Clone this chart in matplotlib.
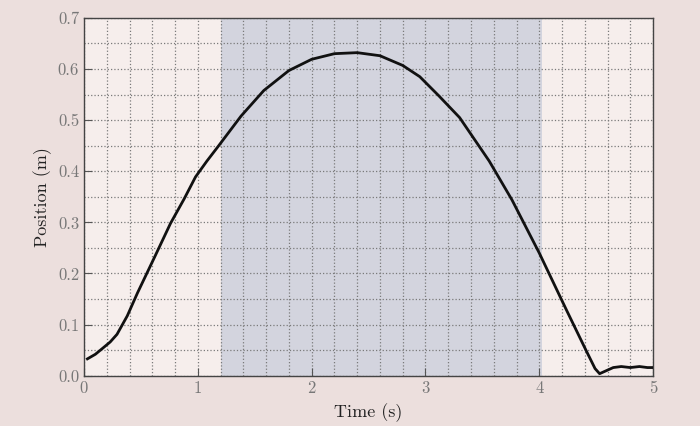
import matplotlib
matplotlib.use('Agg')
from matplotlib import pyplot as plt
from matplotlib.ticker import MultipleLocator, FormatStrFormatter

plt.rcParams['font.family'] = 'cmr10'
plt.rcParams['mathtext.fontset'] = 'cm'
plt.rcParams['axes.formatter.use_mathtext'] = True

# position vs time
time = [0.03, 0.10, 0.16, 0.23, 0.29, 0.38, 0.47, 0.62, 0.76, 0.88, 0.98, 1.08, 1.18,
        1.38, 1.58, 1.8, 2.0, 2.2, 2.4, 2.6, 2.8, 2.95, 3.12, 3.30, 3.56, 3.76, 4.0,
        4.09, 4.24, 4.41, 4.49, 4.53, 4.58, 4.65, 4.72, 4.8, 4.88, 4.95, 5.0]
position = [0.033, 0.042, 0.053, 0.066, 0.081, 0.117, 0.162, 0.232, 0.298, 0.346, 0.389,
            0.42, 0.449, 0.508, 0.558, 0.597, 0.619, 0.63, 0.632, 0.626, 0.607, 0.585,
            0.547, 0.505, 0.42, 0.344, 0.24, 0.198, 0.128, 0.05, 0.014, 0.004, 0.009,
            0.016, 0.018, 0.016, 0.018, 0.016, 0.016]

shade_start = 1.2
shade_end = 4.02

fig = plt.figure(figsize=(7, 4.26), dpi=100, facecolor='#ecdfdd')
ax = fig.add_axes([0.12, 0.118, 0.813, 0.84])
ax.set_facecolor('#f6eeec')

ax.axvspan(shade_start, shade_end, color='#d3d4de', lw=0, zorder=0)
ax.plot(time, position, color='#111111', lw=2.0, zorder=3)

ax.set_xlim(0, 5)
ax.set_ylim(0, 0.7)
ax.xaxis.set_major_locator(MultipleLocator(1))
ax.xaxis.set_minor_locator(MultipleLocator(0.2))
ax.yaxis.set_major_locator(MultipleLocator(0.1))
ax.yaxis.set_minor_locator(MultipleLocator(0.05))
ax.yaxis.set_major_formatter(FormatStrFormatter('%.1f'))
ax.xaxis.set_major_formatter(FormatStrFormatter('%d'))

ax.grid(which='both', ls=':', color='#7a7a7a', lw=0.9, zorder=1)
ax.set_axisbelow(True)
ax.tick_params(which='major', direction='in', length=6, color='#555555',
               labelcolor='#777777', labelsize=12)
ax.tick_params(which='minor', length=0)
for s in ax.spines.values():
    s.set_color('#444444')
    s.set_linewidth(1.0)

ax.set_xlabel('Time (s)', fontsize=13, color='#222222', labelpad=5)
ax.set_ylabel('Position (m)', fontsize=13, color='#222222', labelpad=4)

fig.savefig('out.png', dpi=100, facecolor=fig.get_facecolor())
